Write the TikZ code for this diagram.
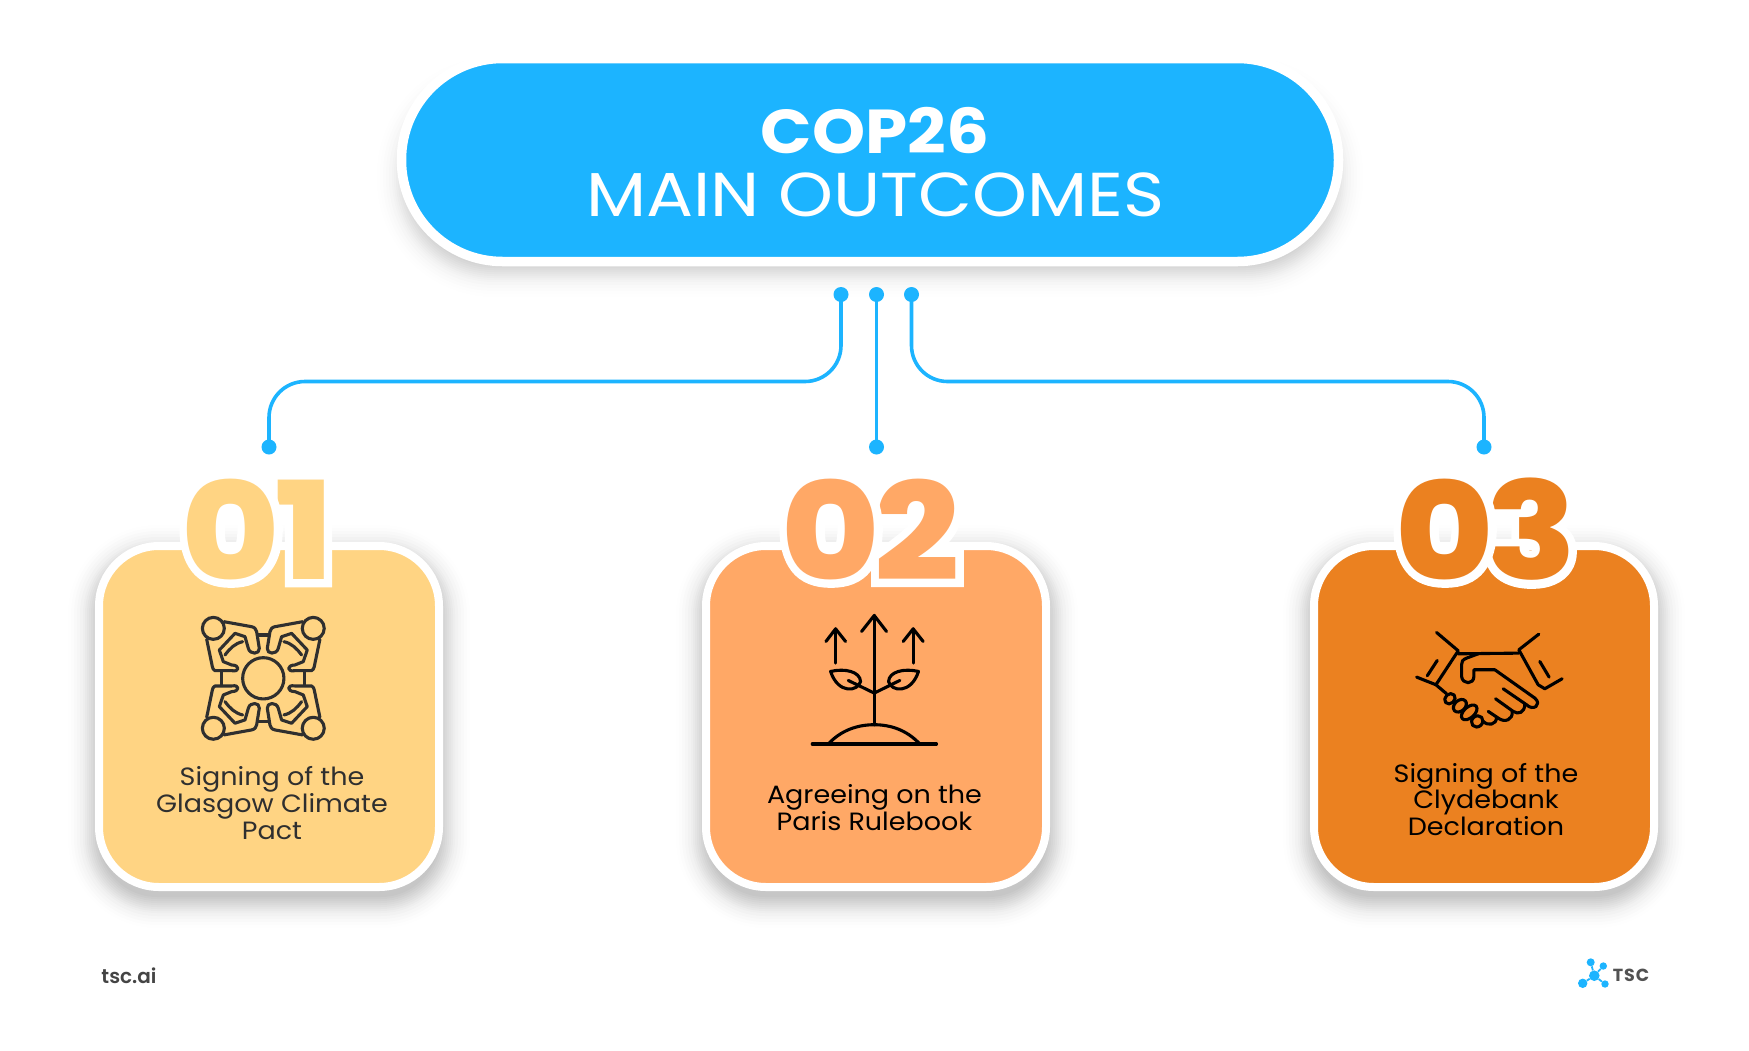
\documentclass[tikz,border=0pt]{standalone}
\usepackage{fontspec}
\usetikzlibrary{calc}
\setmainfont{Poppins}
\newfontfamily\numfont{Poppins ExtraBold}[FakeStretch=1.1]
\newfontfamily\numhalo{Poppins ExtraBold}[FakeStretch=1.1,FakeBold=12]
\newfontfamily\bodyfont{Poppins}[FakeStretch=1.08]
\newfontfamily\titlebold{Poppins Bold}[FakeStretch=1.09]
\newfontfamily\titlefont{Poppins}[FakeStretch=1.127]
\newfontfamily\boldfont{Poppins Bold}
\newfontfamily\semifont{Poppins SemiBold}
\definecolor{sky}{HTML}{1CB4FF}
\definecolor{cardA}{HTML}{FFD483}
\definecolor{cardB}{HTML}{FFA866}
\definecolor{cardC}{HTML}{EB8120}
\definecolor{inkA}{HTML}{2F2F2F}
\tikzset{
  x=1pt,y=-1pt,
  cardbox/.style={draw=white,line width=8pt,rounded corners=60pt,minimum width=340pt,minimum height=341pt,inner sep=0pt},
  pill/.style={draw=white,line width=9.5pt,fill=sky,rounded corners=101pt,minimum width=937pt,minimum height=203pt,inner sep=0pt},
  cardtext/.style={font=\bodyfont\fontsize{25}{26.7}\selectfont,align=center,inner sep=0pt},
  digit/.style={font=\numfont\fontsize{136}{136}\selectfont,inner sep=0pt},
  halo/.style={font=\numhalo\fontsize{136}{136}\selectfont,inner sep=0pt,text=white},
  dot/.style={circle,fill=sky,minimum size=15pt,inner sep=0pt},
  wire/.style={draw=sky,line width=3.6pt,rounded corners=36pt},
  glyph/.style={line width=3.1pt,line cap=round,line join=round},
  blob/.style={circle,fill=sky,inner sep=0pt},
}
\newcommand{\softshadow}[6]{%
  \foreach \s/\o in {-4/1,-2/1,0/1,2/1,4/1,6/1,8/1,10/.9,12/.8,15/.7,18/.6,21/.5,24/.35,27/.2}{%
    \fill[black,opacity=#6*\o,rounded corners={#5+\s}]
      ({#1-\s},{#2-\s}) rectangle ({#3+\s},{#4+\s});
  }}
\newcommand{\quarterperson}{%
  \draw[glyph,xshift=0pt] (-150,-150) circle[radius=33];
  \draw[glyph] (-118,-170) -- (-35,-155) .. controls (-25,-153) and (-22,-147) .. (-20,-140)
    -- (-12,-90) .. controls (-10,-72) and (-40,-70) .. (-45,-90)
    -- (-55,-125) -- (-85,-135) -- (-132,-85) -- (-120,-50) -- (-95,-40)
    .. controls (-70,-40) and (-70,-18) .. (-95,-23) -- (-145,-23)
    .. controls (-150,-25) and (-152,-30) .. (-153,-35) -- (-170,-117);
  \draw[glyph] (-115,-70) .. controls (-100,-90) and (-85,-105) .. (-62,-110);
  \draw[glyph] (-125,-20) -- (-125,0);
  \draw[glyph] (-15,-130) -- (0,-130);
}
\begin{document}
\begin{tikzpicture}
\useasboundingbox (0,0) rectangle (1749,1050);
\fill[white] (0,0) rectangle (1749,1050);

% shadows
\softshadow{404}{84}{1336}{270}{90}{.015}
\softshadow{95}{552}{443}{901}{62}{.021}
\softshadow{703}{552}{1051}{901}{62}{.021}
\softshadow{1310}{552}{1658}{901}{62}{.021}

% header
\node[pill] (head) at (870,160) {};
\node[inner sep=0pt,text=white,font=\titlebold\fontsize{62}{62}\selectfont] (cop) at (875,131) {COP26};
\node[inner sep=0pt,text=white,font=\titlefont\fontsize{62}{62}\selectfont] (main) at (875.5,194.5) {MAIN OUTCOMES};

% connectors
\node[dot] (t1) at (841,294.5) {};
\node[dot] (t2) at (876.5,294.5) {};
\node[dot] (t3) at (911.5,294.5) {};
\node[dot] (b1) at (269,447) {};
\node[dot] (b2) at (876.5,447) {};
\node[dot] (b3) at (1484,447) {};
\coordinate (h) at (0,381.5);
\draw[wire] (t1.center) -- (t1|-h) -- (b1|-h) -- (b1.center);
\draw[wire] (t2.center) -- (b2.center);
\draw[wire] (t3.center) -- (t3|-h) -- (b3|-h) -- (b3.center);

% cards
\node[cardbox,fill=cardA] (c1) at (269,716.5) {};
\node[cardbox,fill=cardB] (c2) at (876,716.5) {};
\node[cardbox,fill=cardC] (c3) at (1484,716.5) {};

% numbers
\node[halo]  (n1bh) at (304,529.5) {1};
\node[digit,text=cardA] (n1b) at (304,529.5) {1};
\node[halo]  (n1ah) at (231,529.5) {0};
\node[digit,text=cardA] (n1a) at (231,529.5) {0};

\node[halo]  (n2bh) at (917,529.5) {2};
\node[digit,text=cardB] (n2b) at (917,529.5) {2};
\node[halo]  (n2ah) at (831,529.5) {0};
\node[digit,text=cardB] (n2a) at (831,529.5) {0};

\node[halo]  (n3bh) at (1531,529.5) {3};
\node[digit,text=cardC] (n3b) at (1531,529.5) {3};
\node[halo]  (n3ah) at (1445,529.5) {0};
\node[digit,text=cardC] (n3a) at (1445,529.5) {0};

% people icon
\begin{scope}[shift={(263.3,678.3)},x=.333pt,y=-.333pt,draw=inkA]
  \draw[glyph] (0,0) circle[radius=62];
  \quarterperson
  \begin{scope}[xscale=-1]\quarterperson\end{scope}
  \begin{scope}[yscale=-1]\quarterperson\end{scope}
  \begin{scope}[xscale=-1,yscale=-1]\quarterperson\end{scope}
\end{scope}

% plant icon
\begin{scope}[shift={(760,450)},x=.333pt,y=-.333pt,draw=black]
  \draw[glyph] (343,825) -- (343,497);
  \draw[glyph] (305,545) -- (343,497) -- (380,545);
  \draw[glyph] (227,640) -- (227,537);
  \draw[glyph] (198,575) -- (227,537) -- (257,575);
  \draw[glyph] (460,640) -- (460,537);
  \draw[glyph] (430,575) -- (460,537) -- (490,575);
  \draw[glyph] (343,730) -- (265,692);
  \draw[glyph] (343,730) -- (420,692);
  \draw[glyph] (212,665) .. controls (255,655) and (300,665) .. (302,695)
     .. controls (295,725) and (235,735) .. (212,665) -- cycle;
  \draw[glyph] (476,665) .. controls (433,655) and (388,665) .. (386,695)
     .. controls (393,725) and (453,735) .. (476,665) -- cycle;
  \draw[glyph] (205,883) .. controls (245,840) and (295,825) .. (343,825)
     .. controls (391,825) and (440,840) .. (480,883);
  \draw[glyph] (157,883) -- (530,883);
\end{scope}

% handshake icon
\begin{scope}[shift={(1350,450)},x=.333pt,y=-.333pt,draw=black]
  \draw[glyph] (260,548) -- (325,603) -- (258,705) -- (200,682);
  \draw[glyph] (262,632) -- (232,678);
  \draw[glyph] (567,553) -- (507,600) -- (565,705) -- (585,717) -- (637,687);
  \draw[glyph] (570,635) -- (598,682);
  \draw[glyph] (325,612) -- (507,610);
  \draw[glyph] (385,612) -- (350,625) .. controls (338,630) and (335,635) .. (335,645)
     -- (335,680) .. controls (338,705) and (372,705) .. (372,680) -- (372,660) -- (435,660)
     -- (555,745) .. controls (578,765) and (550,785) .. (530,765) -- (460,717);
  \draw[glyph] (525,762) .. controls (525,790) and (505,795) .. (490,785) -- (437,747);
  \draw[glyph] (487,785) .. controls (490,810) and (465,820) .. (445,805) -- (415,785);
  \draw[glyph] (440,803) .. controls (440,825) and (415,830) .. (400,815);
  \draw[glyph] (258,705) -- (290,732);
  \draw[glyph,rotate around={42:(300,747)}] (300,747) ellipse[x radius=17,y radius=14];
  \draw[glyph,rotate around={42:(330,768)}] (330,768) ellipse[x radius=22,y radius=16];
  \draw[glyph,rotate around={42:(358,788)}] (358,788) ellipse[x radius=28,y radius=16];
  \draw[glyph,rotate around={42:(382,815)}] (382,815) ellipse[x radius=18,y radius=16];
\end{scope}

% card texts
\node[cardtext,text=inkA] (txt1) at (272,803) {Signing of the\\Glasgow Climate\\Pact};
\node[cardtext,text=black] (txt2) at (874.5,807.5) {Agreeing on the\\Paris Rulebook};
\node[cardtext,text=black] (txt3) at (1486,799.5) {Signing of the\\Clydebank\\Declaration};

% footer
\node[inner sep=0pt,text=inkA!90,font=\semifont\fontsize{20}{20}\selectfont] (site) at (129,976) {tsc.ai};
\node[blob,minimum size=10.6pt] (l1) at (1594.3,975.7) {};
\node[blob,minimum size=8pt] (l2) at (1590.7,962.3) {};
\node[blob,minimum size=7.4pt] (l3) at (1603.3,966) {};
\node[blob,minimum size=9.4pt] (l4) at (1582.7,983.3) {};
\node[blob,minimum size=7.4pt] (l5) at (1605,984) {};
\draw[sky,line width=1.8pt] (l1) -- (l2) (l1) -- (l3) (l1) -- (l4) (l1) -- (l5);
\node[inner sep=0pt,text=black!68,font=\boldfont\fontsize{17.5}{17.5}\selectfont] (brand) at (1631,975.7) {T\kern1pt S\kern1pt C};
\end{tikzpicture}
\end{document}
